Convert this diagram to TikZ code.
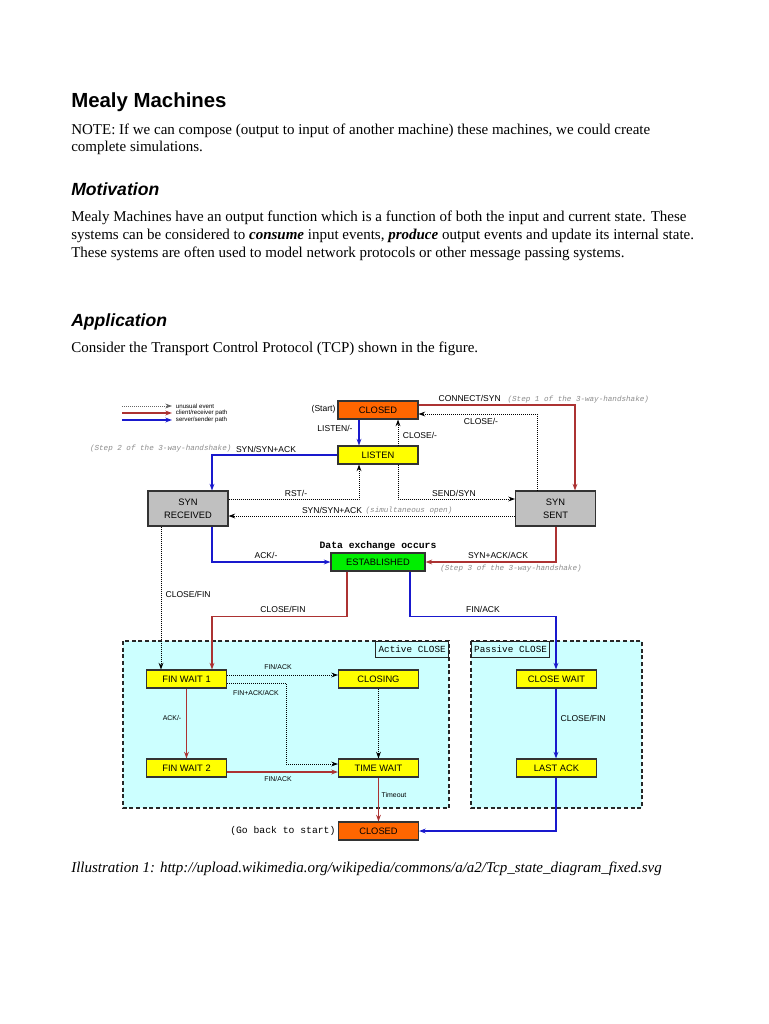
\documentclass[tikz,border=0pt]{standalone}
\usepackage{fontspec}
\setmainfont{Liberation Serif}
\setsansfont{Liberation Sans}
\setmonofont{Liberation Mono}
\usetikzlibrary{arrows.meta,calc}
\definecolor{redpath}{RGB}{172,50,50}
\definecolor{bluepath}{RGB}{25,25,205}
\definecolor{orangest}{RGB}{255,102,0}
\definecolor{yellowst}{RGB}{255,255,0}
\definecolor{greenst}{RGB}{0,238,0}
\definecolor{greyst}{RGB}{192,192,192}
\definecolor{cyanbg}{RGB}{204,255,255}
\tikzset{
 state/.style={draw=black!80, line width=0.8pt, minimum width=60pt, minimum height=13.5pt, inner sep=0pt, font=\sffamily\fontsize{7}{9.75}\selectfont, align=center},
 lbl/.style={font=\sffamily\fontsize{6.4}{7}\selectfont, inner sep=1pt},
 smlbl/.style={font=\sffamily\fontsize{5.2}{6}\selectfont, inner sep=1pt},
 leglbl/.style={font=\sffamily\fontsize{4.6}{5}\selectfont, inner sep=0.5pt, anchor=west},
 steplbl/.style={font=\ttfamily\itshape\fontsize{5.7}{6}\selectfont, text=black!45, inner sep=1pt},
 monolbl/.style={font=\ttfamily\fontsize{7.3}{8}\selectfont, inner sep=1pt},
 tip/.style={-{Stealth[length=5pt,width=3.6pt]}},
 redarr/.style={draw=redpath, line width=1.35pt, tip},
 bluearr/.style={draw=bluepath, line width=1.35pt, tip},
 dotarr/.style={draw=black, line width=0.65pt, dash pattern=on 0.65pt off 0.85pt, tip},
 body/.style={font=\rmfamily\fontsize{11.25}{13}\selectfont, anchor=base west, inner sep=0pt},
 head/.style={font=\sffamily\bfseries\itshape\fontsize{13.2}{15}\selectfont, anchor=base west, inner sep=0pt},
 region/.style={draw=black!85, line width=0.8pt, dash pattern=on 3pt off 2pt, fill=cyanbg},
 regionlbl/.style={draw=black!85, line width=0.8pt, fill=cyanbg, font=\ttfamily\fontsize{7}{8}\selectfont, minimum height=12pt, inner sep=2pt},
}
\begin{document}
\begin{tikzpicture}[x=0.75pt,y=-0.75pt]
\useasboundingbox[fill=white] (0,0) rectangle (768,1024);

% ---------- text ----------
\node[font=\sffamily\bfseries\fontsize{15.3}{18}\selectfont, anchor=base west, inner sep=0pt] (title) at (71,108) {Mealy Machines};
\node[body] (note1) at (71,134) {NOTE: If we can compose (output to input of another machine) these machines, we could create};
\node[body] (note2) at (71,151) {complete simulations.};
\node[head] (motiv) at (71,195) {Motivation};
\node[body] (p1) at (71,221) {Mealy Machines have an output function which is a function of both the input and current state. These};
\node[body] (p2) at (71,239) {systems can be considered to \textbf{\textit{consume}} input events, \textbf{\textit{produce}} output events and update its internal state.};
\node[body] (p3) at (71,257) {These systems are often used to model network protocols or other message passing systems.};
\node[head] (appl) at (71,326) {Application};
\node[body] (cons) at (71,352) {Consider the Transport Control Protocol (TCP) shown in the figure.};
\node[body, font=\rmfamily\itshape\fontsize{11.25}{13}\selectfont] (caption) at (71,872) {Illustration 1: http://upload.wikimedia.org/wikipedia/commons/a/a2/Tcp\_state\_diagram\_fixed.svg};

% ---------- regions ----------
\draw[region] (123,641) rectangle (449,808);
\draw[region] (471,641) rectangle (642,808);
\node[regionlbl, anchor=north east] (actlbl) at (449,641) {Active CLOSE};
\node[regionlbl, anchor=north west] (paslbl) at (471,641) {Passive CLOSE};

% ---------- legend ----------
\coordinate (l1a) at (122,406); \coordinate (l1b) at (172,406);
\coordinate (l2a) at (122,413); \coordinate (l2b) at (172,413);
\coordinate (l3a) at (122,420); \coordinate (l3b) at (172,420);
\draw[dotarr, draw=black!60, -{Stealth[length=5pt,width=3.6pt,fill=black]}] (l1a) -- (l1b);
\draw[redarr, line width=1pt] (l2a) -- (l2b);
\draw[bluearr, line width=1pt] (l3a) -- (l3b);
\node[leglbl] (lg1) at (175,406) {unusual event};
\node[leglbl] (lg2) at (175,413) {client/receiver path};
\node[leglbl] (lg3) at (175,420) {server/sender path};

% ---------- states ----------
\node[state, fill=orangest] (closedTop) at (378,410) {CLOSED};
\node[state, fill=yellowst] (listen) at (378,455) {LISTEN};
\node[state, fill=greyst, minimum height=26.25pt] (synrcvd) at (188,508.5) {SYN\\RECEIVED};
\node[state, fill=greyst, minimum height=26.25pt] (synsent) at (555.5,508.5) {SYN\\SENT};
\node[state, fill=greenst, minimum width=70.5pt] (established) at (378,562) {ESTABLISHED};
\node[state, fill=yellowst] (finwait1) at (186.5,679) {FIN WAIT 1};
\node[state, fill=yellowst] (closing) at (378.5,679) {CLOSING};
\node[state, fill=yellowst] (finwait2) at (186.5,768) {FIN WAIT 2};
\node[state, fill=yellowst] (timewait) at (378.5,768) {TIME WAIT};
\node[state, fill=orangest] (closedBot) at (378.5,831) {CLOSED};
\node[state, fill=yellowst] (closewait) at (556.5,679) {CLOSE WAIT};
\node[state, fill=yellowst] (lastack) at (556.5,768) {LAST ACK};

% ---------- top labels ----------
\node[lbl, anchor=east] (start) at (337,409) {(Start)};
\node[monolbl, font=\ttfamily\bfseries\fontsize{7.3}{8}\selectfont] (dataex) at (378,546) {Data exchange occurs};
\node[monolbl, anchor=east] (goback) at (337,831) {(Go back to start)};

% ---------- connectors ----------
% LISTEN/-
\draw[bluearr] (closedTop.south -| 359,0) -- (listen.north -| 359,0);
\node[lbl] (t1) at (335,428) {LISTEN/-};
% CLOSE/- (listen -> closed)
\draw[dotarr] (listen.north -| 398,0) -- (closedTop.south -| 398,0);
\node[lbl] (t2) at (420,435) {CLOSE/-};
% CONNECT/SYN
\draw[redarr] (closedTop.east |- 0,405) -| (synsent.north -| 575,0);
\node[lbl, anchor=base west] (t3) at (437,401) {CONNECT/SYN};
\node[steplbl, anchor=base west] (t3b) at (506,401) {(Step 1 of the 3-way-handshake)};
% CLOSE/- (syn sent -> closed)
\draw[dotarr] (synsent.north -| 537,0) |- (closedTop.east |- 0,414);
\node[lbl] (t4) at (481,421) {CLOSE/-};
% SYN/SYN+ACK (listen -> syn rcvd)
\draw[bluearr] (listen.west) -| (synrcvd.north -| 212,0);
\node[lbl] (t5) at (266,449) {SYN/SYN+ACK};
\node[steplbl, anchor=east] (t5b) at (233,449) {(Step 2 of the 3-way-handshake)};
% RST/-
\draw[dotarr] (synrcvd.east |- 0,499) -| (listen.south -| 359,0);
\node[lbl] (t6) at (296,493) {RST/-};
% SEND/SYN
\draw[dotarr] (listen.south -| 398,0) |- (synsent.west |- 0,499);
\node[lbl] (t7) at (454,493) {SEND/SYN};
% simultaneous open
\draw[dotarr] (synsent.west |- 0,516) -- (synrcvd.east |- 0,516);
\node[lbl] (t8) at (332,510.5) {SYN/SYN+ACK};
\node[steplbl] (t8b) at (409,510.5) {(simultaneous open)};
% ACK/-
\draw[bluearr] (synrcvd.south -| 212,0) |- (established.west);
\node[lbl] (t9) at (266,555) {ACK/-};
% SYN+ACK/ACK
\draw[redarr] (synsent.south -| 556,0) |- (established.east);
\node[lbl] (t10) at (498,555) {SYN+ACK/ACK};
\node[steplbl] (t10b) at (511,569) {(Step 3 of the 3-way-handshake)};
% CLOSE/FIN dotted
\draw[dotarr] (synrcvd.south -| 161,0) -- (finwait1.north -| 161,0);
\node[lbl, anchor=west] (t11) at (164,594) {CLOSE/FIN};
% CLOSE/FIN red
\draw[redarr] (established.south -| 347,0) -- ++(0,45) -| (finwait1.north -| 212,0);
\node[lbl] (t12) at (283,609) {CLOSE/FIN};
% FIN/ACK blue
\draw[bluearr] (established.south -| 410,0) -- ++(0,45) -| (closewait.north -| 556,0);
\node[lbl] (t13) at (483,609) {FIN/ACK};
% FIN/ACK dotted fw1 -> closing
\draw[dotarr] (finwait1.east |- 0,675) -- (closing.west |- 0,675);
\node[smlbl] (t14) at (278,667) {FIN/ACK};
% FIN+ACK/ACK
\draw[dotarr] (finwait1.east |- 0,683) -- (286,683) |- (timewait.west |- 0,764);
\node[smlbl] (t15) at (256,693) {FIN+ACK/ACK};
% ACK/-
\draw[redarr, line width=1pt] (finwait1.south) -- (finwait2.north);
\node[smlbl] (t16) at (172,718) {ACK/-};
% closing -> time wait
\draw[dotarr] (closing.south) -- (timewait.north);
% fin wait 2 -> time wait
\draw[redarr, line width=1pt] (finwait2.east |- 0,772) -- (timewait.west |- 0,772);
\node[smlbl] (t17) at (278,779) {FIN/ACK};
% timeout
\draw[redarr] (timewait.south) -- (closedBot.north);
\node[smlbl, anchor=west] (t18) at (380,795) {Timeout};
% close wait -> last ack
\draw[bluearr] (closewait.south -| 556,0) -- (lastack.north -| 556,0);
\node[lbl, anchor=west] (t19) at (559,718) {CLOSE/FIN};
% last ack -> closed
\draw[bluearr] (lastack.south -| 556,0) |- (closedBot.east);
\end{tikzpicture}
\end{document}
